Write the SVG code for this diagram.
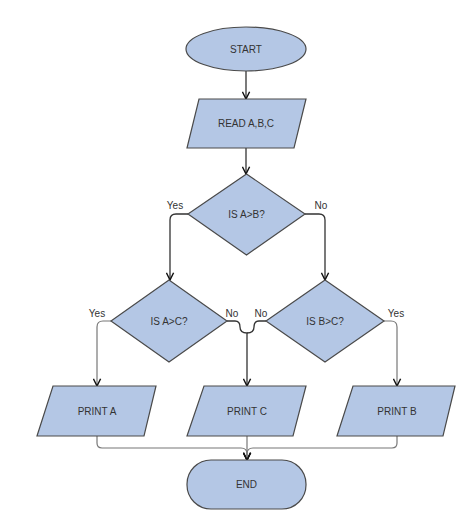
<svg xmlns="http://www.w3.org/2000/svg" width="474" height="526" viewBox="0 0 474 526">
<style>
.shape{fill:#b4c7e5;stroke:#4a4a4a;stroke-width:1.2}
.lbl{font-family:"Liberation Sans",Arial,sans-serif;font-size:10px;fill:#333;text-anchor:middle;dominant-baseline:central}
.edge{fill:none;stroke:#333;stroke-width:1.3}
.edge2{fill:none;stroke:#777;stroke-width:1.2}
</style>
<defs>
<marker id="arr" viewBox="0 0 10 10" refX="9" refY="5" markerWidth="9" markerHeight="9" markerUnits="userSpaceOnUse" orient="auto">
<path d="M1,1 L9,5 L1,9" fill="none" stroke="#111" stroke-width="1.6"/>
</marker>
</defs>
<rect width="474" height="526" fill="#fff"/>
<g id="connectors">
<path class="edge" d="M246,70 V99" marker-end="url(#arr)"/>
<path class="edge" d="M246,148 V174" marker-end="url(#arr)"/>
<path class="edge" d="M188,214 H176 Q170,214 170,220 V280" marker-end="url(#arr)"/>
<path class="edge" d="M305,214 H319 Q325,214 325,220 V280" marker-end="url(#arr)"/>
<path class="edge2" d="M111,321 H103 Q97,321 97,327 V386" marker-end="url(#arr)"/>
<path class="edge2" d="M384,321 H391 Q397,321 397,327 V386" marker-end="url(#arr)"/>
<path class="edge" d="M227,321 H235 Q240,321 240,327 Q240,333 247,333 V386" marker-end="url(#arr)"/>
<path class="edge" d="M266,321 H259 Q254,321 254,327 Q254,333 247,333"/>
<path class="edge2" d="M97,436 V443 Q97,448 102,448 H241 Q247,448 247,454 V460" marker-end="url(#arr)"/>
<path class="edge2" d="M397,436 V443 Q397,448 392,448 H253 Q247,448 247,454 V460" marker-end="url(#arr)"/>
<path class="edge2" d="M247,436 V460" marker-end="url(#arr)"/>
<text class="lbl" x="175" y="205">Yes</text>
<text class="lbl" x="321" y="205">No</text>
<text class="lbl" x="97" y="313">Yes</text>
<text class="lbl" x="232" y="313">No</text>
<text class="lbl" x="261" y="313">No</text>
<text class="lbl" x="396" y="313">Yes</text>
</g>
<g id="start">
<ellipse class="shape" cx="246" cy="49" rx="60" ry="22"/>
<text class="lbl" x="246" y="49">START</text>
</g>
<g id="read">
<polygon class="shape" points="199,99 306,99 294,148 187,148"/>
<text class="lbl" x="246" y="123.5">READ A,B,C</text>
</g>
<g id="isAgtB">
<polygon class="shape" points="246.5,174 305,214 246.5,255 188,214"/>
<text class="lbl" x="246.5" y="214">IS A&gt;B?</text>
</g>
<g id="isAgtC">
<polygon class="shape" points="169,280 227,321 169,362 111,321"/>
<text class="lbl" x="169" y="321">IS A&gt;C?</text>
</g>
<g id="isBgtC">
<polygon class="shape" points="325,280 384,321 325,362 266,321"/>
<text class="lbl" x="325" y="321">IS B&gt;C?</text>
</g>
<g id="printA">
<polygon class="shape" points="53,386 156,386 144,436 37,436"/>
<text class="lbl" x="97" y="411">PRINT A</text>
</g>
<g id="printC">
<polygon class="shape" points="204,386 306,386 293,436 187,436"/>
<text class="lbl" x="247" y="411">PRINT C</text>
</g>
<g id="printB">
<polygon class="shape" points="353,386 455,386 443,436 337,436"/>
<text class="lbl" x="397" y="411">PRINT B</text>
</g>
<g id="end">
<rect class="shape" x="187" y="460" width="119" height="49" rx="24" ry="24"/>
<text class="lbl" x="246.5" y="484.5">END</text>
</g>
</svg>
